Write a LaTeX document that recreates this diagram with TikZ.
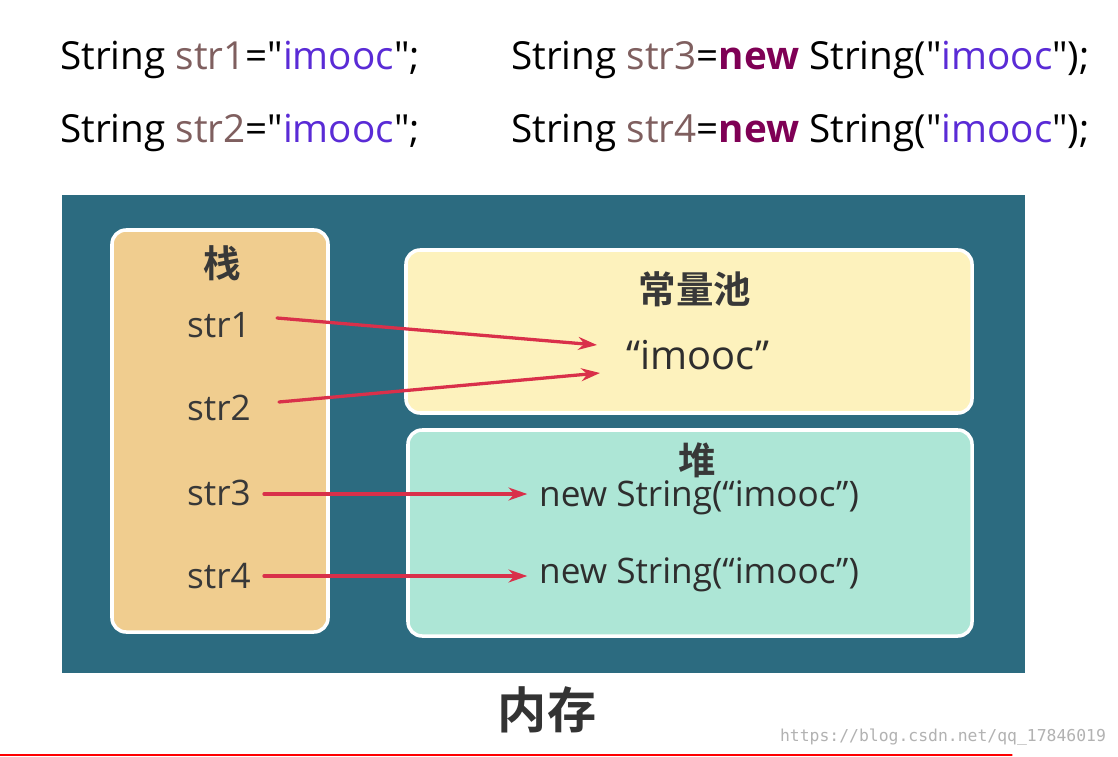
\documentclass[tikz,border=0pt]{standalone}
\usepackage{fontspec}
\setmainfont{Open Sans}[Ligatures=TeXOff]
\setmonofont{DejaVu Sans Mono}
\newfontfamily\cjk{Noto Sans CJK SC}[BoldFont={Noto Sans CJK SC Bold}]
\usetikzlibrary{arrows.meta}
\definecolor{memteal}{HTML}{2C6B80}
\definecolor{stackfill}{HTML}{F0CD8F}
\definecolor{poolfill}{HTML}{FDF2BD}
\definecolor{heapfill}{HTML}{ADE6D6}
\definecolor{refred}{HTML}{D9304A}
\definecolor{varbrown}{HTML}{7F5F5F}
\definecolor{strpurple}{HTML}{5A2BD6}
\definecolor{kwmag}{HTML}{7F0055}
\newcommand{\vr}[1]{\textcolor{varbrown}{#1}}
\newcommand{\sq}[1]{\textcolor{strpurple}{#1}}
\newcommand{\kw}[1]{\textcolor{kwmag}{\textbf{#1}}}
\newcommand{\dq}{\symbol{34}}
\tikzset{
  membox/.style={draw=white,line width=3pt,rounded corners=12pt},
  code/.style={anchor=west,font=\fontsize{33}{36}\selectfont,inner sep=0pt},
  var/.style={font=\fontsize{30}{33}\selectfont,text=black!78},
  title/.style={font=\cjk\bfseries\fontsize{32}{36}\selectfont,text=black!78},
  obj/.style={font=\fontsize{30}{33}\selectfont,text=black!82,inner sep=0pt},
  ref/.style={-{Stealth[length=16pt,width=11pt]},refred,line width=2.8pt}
}
\begin{document}
\begin{tikzpicture}[x=0.03cm,y=-0.03cm,line cap=round,line join=round]
  \useasboundingbox (0,0) rectangle (1118,757);
  \fill[white] (0,0) rectangle (1118,757);
  % code
  \node[code] (c1) at (60,60) {String \vr{str1}=\dq\sq{imooc}\dq;};
  \node[code] (c2) at (60,133) {String \vr{str2}=\dq\sq{imooc}\dq;};
  \node[code] (c3) at (511,60) {String \vr{str3}=\kw{new} String(\dq\sq{imooc}\dq);};
  \node[code] (c4) at (511,133) {String \vr{str4}=\kw{new} String(\dq\sq{imooc}\dq);};
  % memory
  \fill[memteal] (62,195) rectangle (1025,673);
  \draw[membox,fill=stackfill] (112,230) rectangle (328,632);
  \draw[membox,fill=poolfill] (406,250) rectangle (972,413);
  \draw[membox,fill=heapfill] (408,430) rectangle (972,636);
  \node[title] (stk) at (222,263) {栈};
  \node[title] (pool) at (695,289) {常量池};
  \node[title] (heap) at (697,460) {堆};
  \node[var] (s1) at (219,325) {str1};
  \node[var] (s2) at (219,408) {str2};
  \node[var] (s3) at (219,493) {str3};
  \node[var] (s4) at (219,576) {str4};
  \node[obj,font=\fontsize{34}{38}\selectfont] (lit) at (698,355) {“imooc”};
  \node[obj,anchor=west] (o3) at (539,498) {new String(“imooc”)};
  \node[obj,anchor=west] (o4) at (539,575) {new String(“imooc”)};
  \draw[ref] (277,318) -- (597,345);
  \draw[ref] (279,402) -- (600,373);
  \draw[ref,shorten >=10pt] (264,494) -- (o3.west |- 0,494);
  \draw[ref,shorten >=10pt] (264,576) -- (o4.west |- 0,576);
  \node[font=\cjk\bfseries\fontsize{42}{46}\selectfont,text=black!80] (mem) at (547,710) {内存};
  \node[font=\ttfamily\fontsize{14}{16}\selectfont,text=black!30] (wm) at (943,737) {https://blog.csdn.net/qq\_17846019};
  \draw[red,line width=1pt] (0,755) -- (1012,755);
\end{tikzpicture}
\end{document}
